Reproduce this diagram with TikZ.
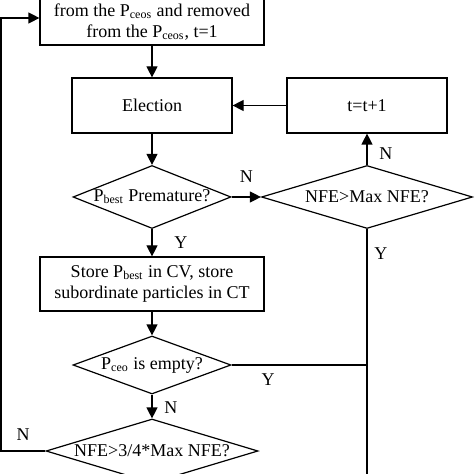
\documentclass[tikz,border=0pt]{standalone}
\usepackage{fontspec}
\setmainfont{Liberation Serif}
\usetikzlibrary{shapes.geometric,arrows.meta}

\tikzset{
  process/.style={draw, rectangle, align=center, minimum width=112pt, minimum height=27pt, inner xsep=2pt, inner ysep=1pt},
  decision/.style={draw, diamond, inner sep=0pt, minimum width=79pt, minimum height=31.5pt},
}

\begin{document}
\begin{tikzpicture}[node distance=44pt,auto,font=\fontsize{9}{10.5}\selectfont,
  >={Triangle[length=5.5pt,width=5.5pt]},line width=0.6pt]
\useasboundingbox (0,0) rectangle (237pt,-237pt);
\clip (0,0) rectangle (237pt,-237pt);
\node[process, minimum width=80pt, minimum height=27.5pt] (election) at (76pt,-52.75pt) {Election};
\node[process, minimum width=80pt, minimum height=27.5pt, node distance=107.5pt] (incr) [right of=election] {t=t+1};
\node[process] (init) [above of=election, node distance=43.75pt] {\mbox{}\\from the P\textsubscript{ceos} and removed\\from the P\textsubscript{ceos}, t=1};
\node[decision] (premature) [below of=election, node distance=45.75pt] {\makebox[0pt]{P\textsubscript{best} Premature?}};
\node[decision, minimum width=105.5pt] (maxnfe) [below of=incr, node distance=45.75pt] {\makebox[0pt]{NFE>Max NFE?}};
\node[process] (store) [below of=premature, node distance=43.5pt] {Store P\textsubscript{best} in CV, store\\subordinate particles in CT};
\node[decision, minimum height=29pt] (empty) [below of=store, node distance=40.5pt] {\makebox[0pt]{P\textsubscript{ceo} is empty?}};
\node[decision, minimum width=106pt, minimum height=32pt] (threequarter) [below of=empty, node distance=43pt] {\makebox[0pt]{NFE>3/4*Max NFE?}};
\coordinate[below of=maxnfe, node distance=150pt] (down);
\coordinate[left of=threequarter, node distance=75.5pt] (back);

\path[->] (init) edge (election);
\path[->] (incr) edge (election);
\path[->] (election) edge (premature);
\path[->] (premature) edge node[above=3.5pt] {N} (maxnfe);
\path[->] (maxnfe) edge node[right=2.5pt, pos=0.375] {N} (incr);
\path[->] (premature) edge node[right=7.5pt] {Y} (store);
\draw (maxnfe) -- node[right=0pt, pos=0.09] {Y} (down);
\path[->] (store) edge (empty);
\draw (empty) -- node[below=0.5pt, pos=0.27] {Y} (empty -| maxnfe);
\path[->] (empty) edge node[right=2.5pt, pos=0.56] {N} (threequarter);
\draw[->] (threequarter) -- node[above=1.5pt] {N} (back |- threequarter) |- (init);
\end{tikzpicture}
\end{document}
